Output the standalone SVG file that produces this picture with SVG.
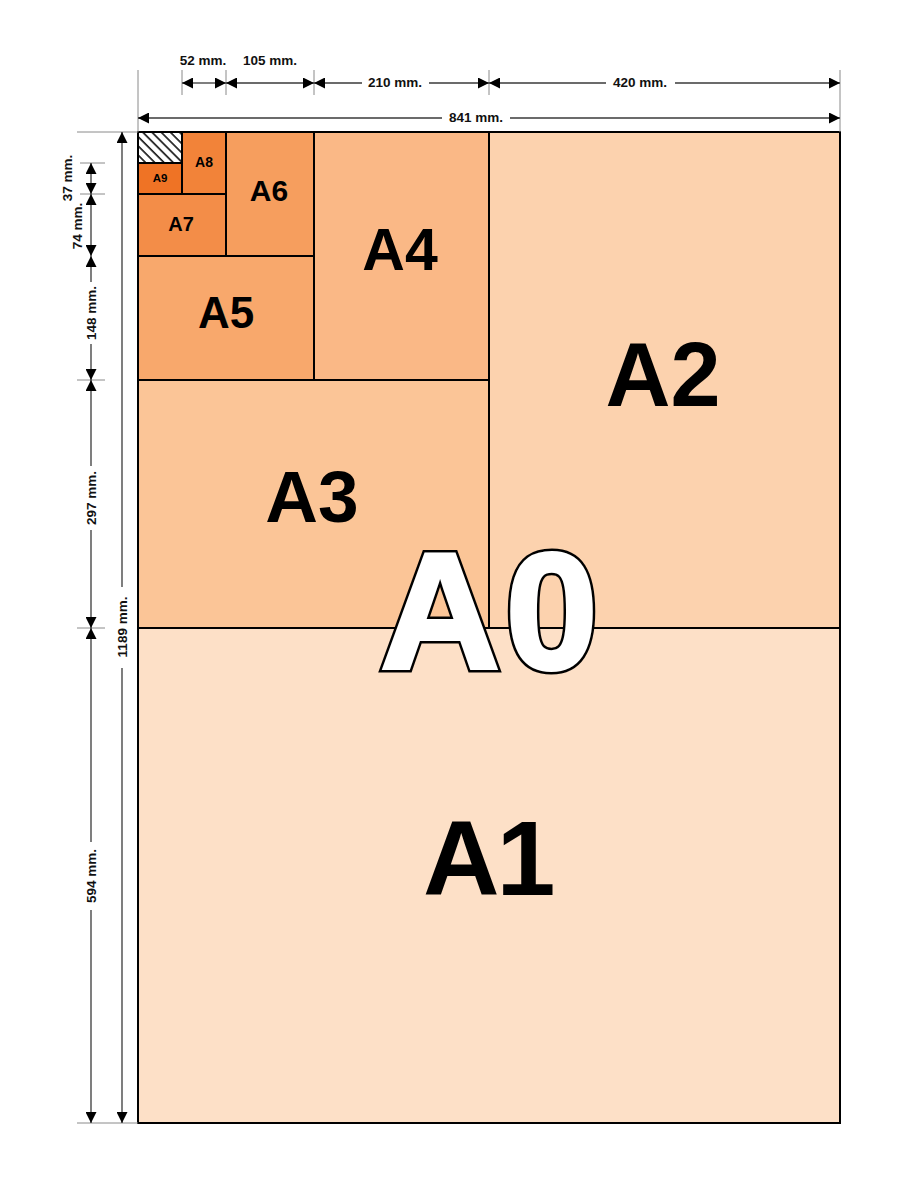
<svg xmlns="http://www.w3.org/2000/svg" width="905" height="1200" viewBox="0 0 905 1200">
<style>
.sheet{stroke:#000;stroke-width:2}
.lbl{font-family:"Liberation Sans",Arial,sans-serif;font-weight:bold;fill:#000;text-anchor:middle}
.dim{font-family:"Liberation Sans",Arial,sans-serif;font-weight:bold;font-size:13.5px;fill:#111;text-anchor:middle}
.dl{stroke:#3a3a3a;stroke-width:1.3;fill:none}
.ext{stroke:#8a8a8a;stroke-width:1;fill:none}
.big{font-family:"Liberation Sans",Arial,sans-serif;font-weight:bold;font-size:165px;letter-spacing:6px;stroke-linejoin:miter;stroke-miterlimit:3}
</style>
<defs>
<marker id="ah" viewBox="0 0 10 10" refX="10" refY="5" markerWidth="11" markerHeight="11" markerUnits="userSpaceOnUse" orient="auto">
<path d="M0,0 L10,5 L0,10 z" fill="#000"/>
</marker>
<pattern id="hatch" patternUnits="userSpaceOnUse" width="6.5" height="6.5" patternTransform="rotate(-45)">
<rect width="6.5" height="6.5" fill="#fff"/>
<line x1="1" y1="0" x2="1" y2="6.5" stroke="#000" stroke-width="1.5"/>
</pattern>
</defs>
<rect width="905" height="1200" fill="#fff"/>

<g id="A1"><rect class="sheet" x="138" y="628" width="702" height="495" fill="#FDE0C7"/><text class="lbl" x="423" y="895" font-size="106" style="text-anchor:start" letter-spacing="-3">A1</text></g>
<g id="A2"><rect class="sheet" x="489" y="132" width="351" height="496" fill="#FCD2AE"/><text class="lbl" x="663" y="406" font-size="90">A2</text></g>
<g id="A3"><rect class="sheet" x="138" y="380" width="351" height="248" fill="#FBC597"/><text class="lbl" x="312" y="522" font-size="73">A3</text></g>
<g id="A4"><rect class="sheet" x="314" y="132" width="175" height="248" fill="#FAB886"/><text class="lbl" x="400" y="270" font-size="59">A4</text></g>
<g id="A5"><rect class="sheet" x="138" y="256" width="176" height="124" fill="#F8A86C"/><text class="lbl" x="226" y="328" font-size="44">A5</text></g>
<g id="A6"><rect class="sheet" x="226" y="132" width="88" height="124" fill="#F69E5E"/><text class="lbl" x="269" y="201" font-size="30">A6</text></g>
<g id="A7"><rect class="sheet" x="138" y="194" width="88" height="62" fill="#F38D48"/><text class="lbl" x="181" y="231" font-size="20">A7</text></g>
<g id="A8"><rect class="sheet" x="182" y="132" width="44" height="62" fill="#F28339"/><text class="lbl" x="204" y="167" font-size="14">A8</text></g>
<g id="A9"><rect class="sheet" x="138" y="163" width="44" height="31" fill="#EF7325"/><text class="lbl" x="160" y="182" font-size="11.5">A9</text></g>
<g id="A10"><rect class="sheet" x="138" y="132" width="44" height="31" fill="url(#hatch)"/></g>
<g id="A0"><rect x="138" y="132" width="702" height="991" fill="none" stroke="#000" stroke-width="2"/>
<text class="big" x="380.5" y="667.5" fill="#000" stroke="#000" stroke-width="9">A0</text>
<text class="big" x="380.5" y="667.5" fill="#fff" stroke="#fff" stroke-width="4">A0</text></g>

<g id="connectors">
<path class="ext" d="M138,70V132 M182,70V95 M226,70V95 M314,70V95 M489,70V95 M840,70V132"/>
<path class="ext" d="M77,132H138 M77,1123H138 M80,163H105 M80,194H105 M77,380H105 M77,628H105"/>
<path class="dl" d="M204,83H182" marker-end="url(#ah)"/>
<path class="dl" d="M204,83H226" marker-end="url(#ah)"/>
<path class="dl" d="M270,83H226" marker-end="url(#ah)"/>
<path class="dl" d="M270,83H314" marker-end="url(#ah)"/>
<path class="dl" d="M362,83H314" marker-end="url(#ah)"/>
<path class="dl" d="M429,83H489" marker-end="url(#ah)"/>
<path class="dl" d="M606,83H489" marker-end="url(#ah)"/>
<path class="dl" d="M675,83H840" marker-end="url(#ah)"/>
<path class="dl" d="M442,118H138" marker-end="url(#ah)"/>
<path class="dl" d="M510,118H840" marker-end="url(#ah)"/>
<path class="dl" d="M122,587V132" marker-end="url(#ah)"/>
<path class="dl" d="M122,668V1123" marker-end="url(#ah)"/>
<path class="dl" d="M91,178V163" marker-end="url(#ah)"/>
<path class="dl" d="M91,178V194" marker-end="url(#ah)"/>
<path class="dl" d="M91,225V194" marker-end="url(#ah)"/>
<path class="dl" d="M91,225V256" marker-end="url(#ah)"/>
<path class="dl" d="M91,282V256" marker-end="url(#ah)"/>
<path class="dl" d="M91,344V380" marker-end="url(#ah)"/>
<path class="dl" d="M91,466V380" marker-end="url(#ah)"/>
<path class="dl" d="M91,530V628" marker-end="url(#ah)"/>
<path class="dl" d="M91,842V628" marker-end="url(#ah)"/>
<path class="dl" d="M91,910V1123" marker-end="url(#ah)"/>
</g>

<g id="dim-labels">
<text class="dim" x="203" y="65">52 mm.</text>
<text class="dim" x="270" y="65">105 mm.</text>
<text class="dim" x="395" y="87">210 mm.</text>
<text class="dim" x="640" y="87">420 mm.</text>
<text class="dim" x="476" y="122">841 mm.</text>
<text class="dim" transform="translate(126.5,627) rotate(-90)">1189 mm.</text>
<text class="dim" transform="translate(72,178) rotate(-90)">37 mm.</text>
<text class="dim" transform="translate(82,226) rotate(-90)">74 mm.</text>
<text class="dim" transform="translate(95.5,313) rotate(-90)">148 mm.</text>
<text class="dim" transform="translate(95.5,498) rotate(-90)">297 mm.</text>
<text class="dim" transform="translate(95.5,876) rotate(-90)">594 mm.</text>
</g>
</svg>
